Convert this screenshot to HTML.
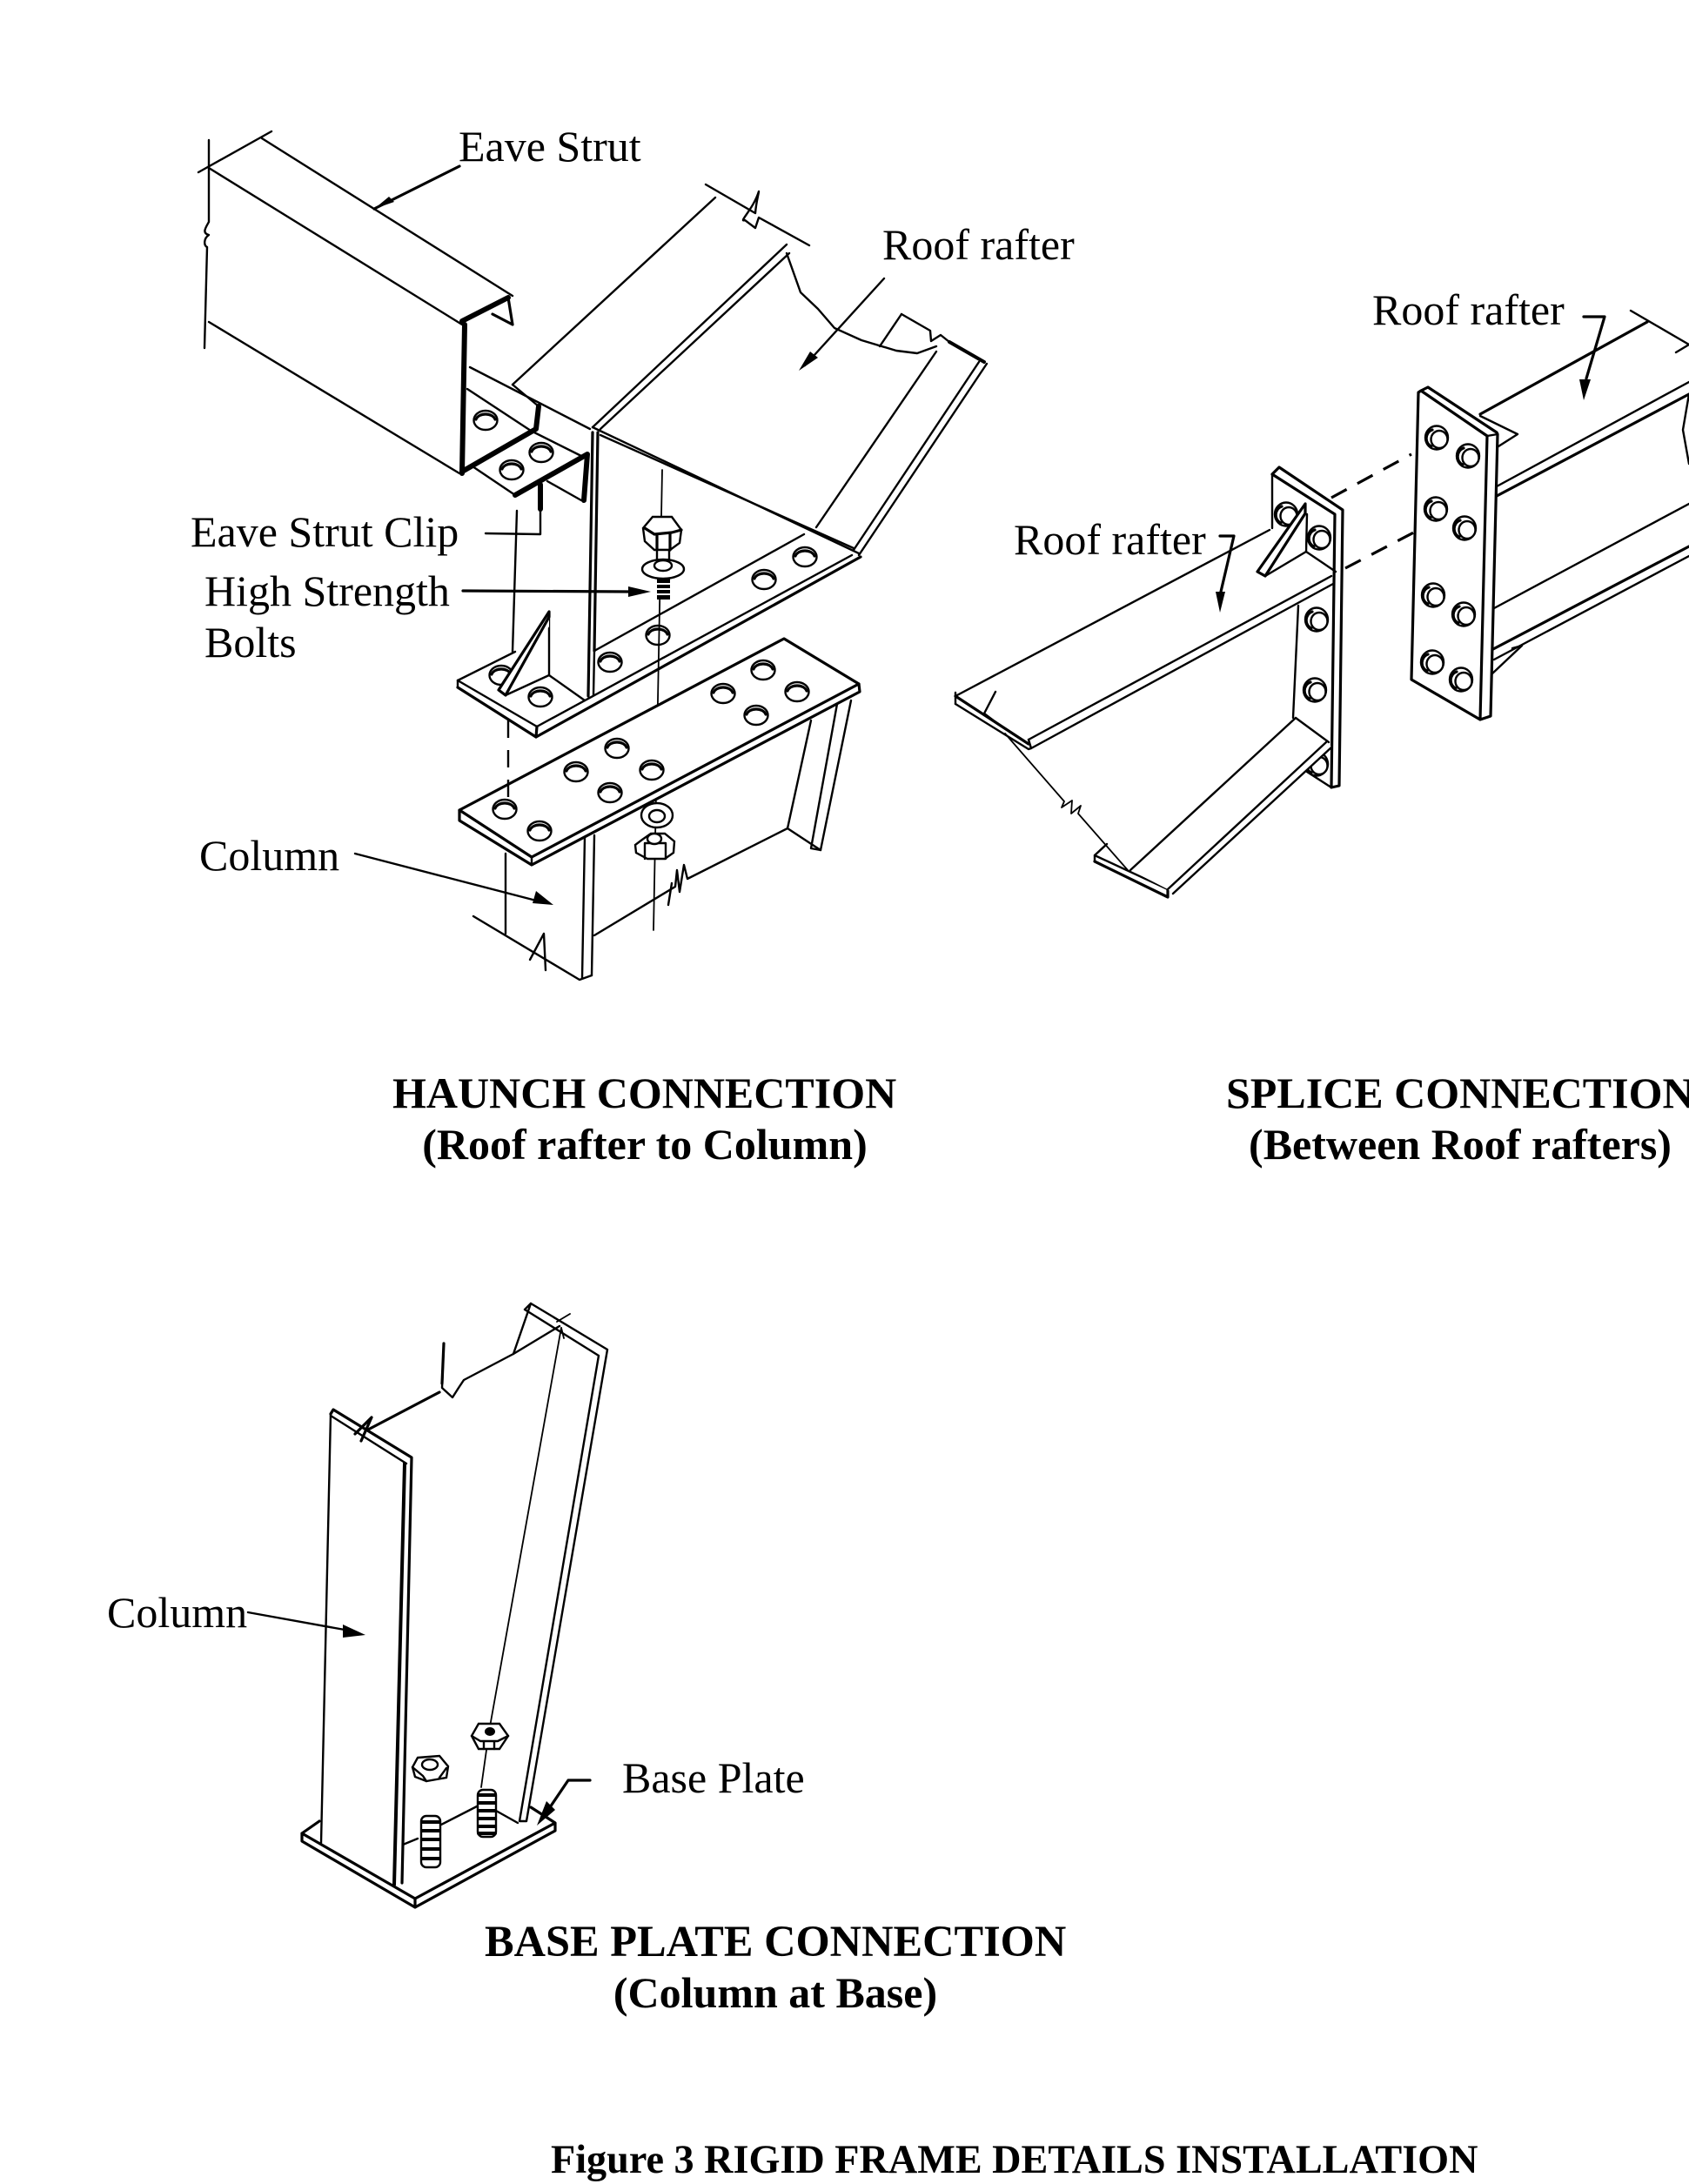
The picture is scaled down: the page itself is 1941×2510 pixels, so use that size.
<!DOCTYPE html>
<html><head><meta charset="utf-8"><style>
html,body{margin:0;padding:0;background:#fff;width:1941px;height:2510px;overflow:hidden}
svg{display:block}
text{font-family:"Liberation Serif",serif;fill:#000;font-size:50px}
.b{font-weight:bold}
.m{text-anchor:middle}
path,line,polyline{fill:none;stroke:#000;stroke-width:2.4;stroke-linejoin:round;stroke-linecap:round}
.t{stroke-width:6}
.f{stroke-width:3.2}
.k{stroke-width:1.8}
.d{stroke-dasharray:20 14;stroke-linecap:butt}
polygon{fill:#000;stroke:none}
.w{fill:#fff;stroke:#000;stroke-width:2.4}
</style></head><body>
<svg width="1941" height="2510" viewBox="0 0 1941 2510" xmlns="http://www.w3.org/2000/svg">
<defs>
<g id="h"><ellipse class="w" rx="13.5" ry="11"/><path class="f" d="M-11,-1 C-8,-9 8,-9 11,-1"/></g>
<g id="r"><ellipse class="w" rx="13" ry="13.5"/><path class="f" d="M-5,-9 C-14,-6 -14,7 -6,10" /><ellipse class="w" cx="3" cy="2" rx="9.5" ry="10"/></g>
</defs>

<!-- TEXT -->
<text x="527" y="185">Eave Strut</text>
<text x="1014" y="298">Roof rafter</text>
<text x="219" y="628">Eave Strut Clip</text>
<text x="235" y="696">High Strength</text>
<text x="235" y="755">Bolts</text>
<text x="229" y="1000">Column</text>
<text x="1577" y="373">Roof rafter</text>
<text x="1165" y="637">Roof rafter</text>
<text x="123" y="1870">Column</text>
<text x="715" y="2060">Base Plate</text>
<text class="b" x="451" y="1273">HAUNCH CONNECTION</text>
<text class="b m" x="741" y="1332">(Roof rafter to Column)</text>
<text class="b" x="1409" y="1273">SPLICE CONNECTION</text>
<text class="b m" x="1678" y="1332">(Between Roof rafters)</text>
<text class="b" x="557" y="2248" style="font-size:50.4px">BASE PLATE CONNECTION</text>
<text class="b m" x="891" y="2307">(Column at Base)</text>
<text class="b" x="633" y="2497" style="font-size:46.2px">Figure 3 RIGID FRAME DETAILS INSTALLATION</text>

<!-- HAUNCH: eave strut -->
<path d="M228,198 L312,151"/>
<path d="M301,159 L589,340"/>
<path d="M240,193 L531,373"/>
<path d="M240,161 L240,255 C236,262 232,268 240,270 C234,274 234,282 238,284 L235,400"/>
<path d="M240,370 L528,544"/>
<path class="t" d="M534,373 L531,544"/>
<path class="t" d="M531,369 L584,342"/>
<path class="f" d="M584,342 L589,373 L566,361"/>
<path class="t" d="M531,542 L616,493 L619,467"/>
<path d="M540,422 L678,493"/>
<path d="M537,447 L610,495"/>
<path d="M589,442 L619,467"/>
<path d="M543,536 L592,569"/>
<path class="t" d="M592,569 L675,522 L671,575"/>
<path d="M629,553 L668,575"/>
<path d="M610,495 L670,525"/>
<path class="t" d="M621,557 L621,585"/>
<path d="M621,585 L621,614 L558,613"/>
<use href="#h" x="558" y="483"/>
<use href="#h" x="622" y="520"/>
<use href="#h" x="588" y="540"/>
<path class="f" d="M528,191 L430,240"/>
<polygon points="430,240 447,226 453,232"/>

<!-- roof rafter -->
<path d="M822,227 L589,442"/>
<path d="M811,212 L868,245 C869,232 872,222 872,220 C866,240 848,256 856,253 L868,262 L872,250 L930,282"/>
<path d="M904,281 L681,491"/>
<path d="M907,291 L690,493"/>
<path d="M904,291 L920,336 L940,355 L959,377 L990,391 L1030,403 L1054,406 L1076,398"/>
<path d="M1016,320 L925,420"/>
<polygon points="918,426 931,404 940,411"/>
<path d="M1036,361 L1011,398"/>
<path d="M1036,361 L1069,380 L1070,392 L1081,385 L1091,393"/>
<path class="t" d="M1091,393 L1131,416" style="stroke-width:4"/>
<path d="M1134,418 L987,638"/>
<path d="M1125,416 L981,632"/>
<path d="M1076,404 L938,606"/>
<path d="M681,491 L987,636"/>
<path d="M690,500 L981,630"/>
<path class="f" d="M681,497 L676,800"/>
<path class="f" d="M687,497 L683,748"/>
<path d="M683,748 L924,614"/>
<path d="M683,748 L682,799"/>
<path d="M979,638 L617,835"/>
<path class="f" d="M989,640 L616,847"/>
<path d="M526,782 L617,835"/>
<path class="f" d="M526,790 L616,847 L617,835"/>
<path d="M526,782 L592,749"/>
<path d="M526,782 L526,790"/>
<path d="M594,587 L589,749"/>
<path d="M631,705 L631,776 L672,805"/>
<use href="#h" x="576" y="776"/>
<use href="#h" x="621" y="801"/>
<use href="#h" x="701" y="761"/>
<use href="#h" x="756" y="730"/>
<use href="#h" x="878" y="666"/>
<use href="#h" x="925" y="640"/>
<polygon style="fill:#fff" points="631,703 573,793 581,799 631,720"/>
<path class="f" d="M631,703 L573,793 L581,799 L631,709 Z"/>
<path d="M581,799 L631,776"/>
<path class="k" d="M761,540 L751,1069"/>
<!-- lower plate -->
<path class="f" d="M901,734 L987,786 L988,795 L611,994 L528,943 L528,931 Z" style="fill:#fff"/>
<path class="f" d="M528,931 L611,985 L987,786"/>
<path d="M611,985 L611,994"/>
<use href="#h" x="877" y="770"/>
<use href="#h" x="831" y="797"/>
<use href="#h" x="916" y="795"/>
<use href="#h" x="869" y="822"/>
<use href="#h" x="709" y="860"/>
<use href="#h" x="662" y="887"/>
<use href="#h" x="749" y="885"/>
<use href="#h" x="701" y="911"/>
<use href="#h" x="580" y="930"/>
<use href="#h" x="620" y="955"/>
<path class="d" d="M584,828 L584,920"/>
<path d="M581,981 L581,1073"/>
<path d="M672,962 L669,1124"/>
<path d="M683,960 L680,1121"/>
<path d="M544,1053 L666,1126 L680,1121"/>
<path d="M625,1073 L609,1103 M625,1073 L627,1115"/>
<path d="M683,1075 L776,1019 L778,1000 L781,1025 L786,994 L790,1010 L905,952"/>
<path d="M772,1015 L768,1040"/>
<path d="M905,952 L943,977 L978,805"/>
<path d="M962,809 L932,975 L943,977"/>
<path d="M932,828 L905,952"/>
<path d="M408,981 L620,1036"/>
<polygon points="636,1040 612,1038 616,1024"/>
<!-- bolt -->
<polygon class="w" points="750,594 772,594 783,609 781,624 770,632 752,632 741,622 739,607"/>
<path class="f" d="M741,607 L752,614 L772,612 L783,609 M755,614 L755,632 M770,614 L770,632"/>
<rect class="w" x="755" y="632" width="14" height="20"/>
<ellipse class="w" cx="762" cy="654" rx="24" ry="11"/>
<ellipse class="w" cx="762" cy="650" rx="10" ry="6"/>
<rect x="755" y="665" width="15" height="24" style="fill:#000"/>
<path d="M755,671 H770 M755,677 H770 M755,683 H770" style="stroke:#fff;stroke-width:2"/>
<path class="f" d="M532,679 L725,680"/>
<polygon points="748,680 722,674 722,686"/>
<!-- washer + nut -->
<ellipse class="w" cx="755" cy="937" rx="18" ry="14"/>
<ellipse class="w" cx="755" cy="938" rx="9" ry="7"/>
<polygon class="w" points="738,965 748,958 764,958 775,967 774,980 764,987 744,987 731,980 730,971"/>
<path d="M741,969 L765,969 L765,987 M741,969 L741,987"/>
<ellipse class="w" cx="752" cy="964" rx="8" ry="6"/>

<!-- SPLICE left -->
<path d="M1098,800 L1459,609"/>
<path d="M1182,850 L1530,662"/>
<path d="M1185,860 L1532,671"/>
<path class="f" d="M1098,800 L1182,855"/>
<path d="M1098,809 L1182,861 L1185,860 L1182,850"/>
<path d="M1098,796 L1098,809"/>
<path d="M1144,795 L1131,820 L1147,832"/>
<path class="k" d="M1155,843 L1223,921 L1220,928 L1232,920 L1231,935 L1242,926 L1239,935 L1296,1000"/>
<path d="M1258,983 L1342,1022"/>
<path class="f" d="M1258,990 L1342,1031 L1342,1022"/>
<path d="M1272,970 L1258,983 L1258,990"/>
<path class="f" d="M1462,545 L1470,537 L1543,586 L1539,903 L1530,905 L1534,591 L1462,545"/>
<path d="M1462,545 L1462,607"/>
<path d="M1502,591 L1501,634 L1535,657"/>
<path d="M1492,696 L1486,825"/>
<path d="M1502,887 L1530,905 M1502,887 L1520,865"/>
<use href="#r" x="1478" y="591"/>
<use href="#r" x="1516" y="618"/>
<use href="#r" x="1513" y="712"/>
<use href="#r" x="1511" y="793"/>
<use href="#r" x="1513" y="878"/>
<polygon style="fill:#fff" points="1530,859 1348,1027 1342,1022 1299,1000 1489,825 1527,853"/>
<path d="M1299,1000 L1489,825"/>
<path d="M1342,1022 L1524,853"/>
<path d="M1348,1027 L1530,859"/>
<path d="M1489,825 L1527,853"/>
<polygon style="fill:#fff" points="1500,579 1445,657 1454,662 1500,632"/>
<path class="f" d="M1500,579 L1445,657 L1454,662 L1500,590 Z"/>
<path d="M1454,662 L1501,634"/>
<path class="f d" d="M1530,572 L1622,522"/>
<path class="f d" d="M1546,653 L1638,605"/>
<path class="f" d="M1402,616 L1418,616 L1403,680"/>
<polygon points="1402,704 1397,680 1408,680"/>
<!-- SPLICE right -->
<path class="f" d="M1701,476 L1893,370"/>
<path d="M1701,478 L1744,499 L1722,513"/>
<path d="M1720,559 L1941,439"/>
<path class="f" d="M1720,570 L1941,453"/>
<path d="M1717,699 L1941,579"/>
<path class="f" d="M1714,747 L1941,628"/>
<path d="M1717,758 L1941,639"/>
<path d="M1714,775 L1749,742 L1738,745"/>
<path d="M1714,747 L1714,775"/>
<path d="M1874,357 L1941,396 M1926,405 L1941,396"/>
<path d="M1941,453 L1934,494 L1941,533"/>
<path class="f" d="M1820,364 L1844,364 L1823,435"/>
<polygon points="1820,460 1815,436 1828,436"/>
<path class="f" d="M1633,449 L1641,445 L1720,497 L1721,499 L1713,823 L1701,827 L1622,781 L1630,451 L1633,449 L1709,501 L1701,827" style="fill:#fff"/>
<path d="M1709,501 L1721,499"/>
<use href="#r" x="1651" y="503"/>
<use href="#r" x="1687" y="524"/>
<use href="#r" x="1650" y="585"/>
<use href="#r" x="1683" y="607"/>
<use href="#r" x="1647" y="684"/>
<use href="#r" x="1682" y="706"/>
<use href="#r" x="1646" y="761"/>
<use href="#r" x="1679" y="781"/>

<!-- BASE -->
<path class="f" d="M347,2107 L367,2093 M347,2107 L347,2116 L477,2192 L638,2104 L638,2095 L610,2077 M347,2107 L477,2182 L638,2095 M477,2182 L477,2192"/>
<path d="M380,1625 L369,2118"/>
<path class="f" d="M380,1625 L383,1620 L473,1675 L462,2164"/>
<path d="M380,1627 L467,1682"/>
<path class="t" d="M465,1682 L453,2166" style="stroke-width:4"/>
<path class="f" d="M423,1643 L505,1600"/>
<path d="M510,1544 L508,1595 L520,1606 L527,1595 L533,1586 L590,1556 L643,1524"/>
<path class="f" d="M510,1544 L508,1590"/>
<path class="f" d="M408,1648 L427,1629 M415,1656 L427,1629"/>
<path d="M610,1498 L590,1556"/>
<path d="M603,1505 L610,1498 L698,1551 L605,2093 L597,2093 L688,1558 L603,1505"/>
<path class="k" d="M640,1519 L655,1510 M645,1526 L648,1538"/>
<path class="k" d="M645,1526 L562,1990 L553,2054"/>
<path d="M463,2120 L480,2113"/>
<path d="M505,2098 L550,2075"/>
<path d="M570,2081 L595,2095"/>
<g>
<polygon class="w" points="550,1981 574,1981 584,1995 574,2010 550,2010 542,1995"/>
<path d="M542,1995 L552,2001 L572,2001 L584,1995 M556,2001 L556,2010 M568,2001 L568,2010"/>
<ellipse class="f" cx="563" cy="1990" rx="6" ry="5"/>
<polygon class="w" points="480,2020 505,2018 515,2030 513,2043 490,2047 477,2042 474,2031"/>
<path d="M474,2031 L486,2041 L490,2047 M513,2032 L505,2043"/>
<ellipse class="w" cx="494" cy="2028" rx="9" ry="6"/>
</g>
<g>
<rect x="549" y="2057" width="21" height="54" rx="6" style="fill:#fff;stroke:#000;stroke-width:2.4"/>
<path class="t" style="stroke-width:4" d="M550,2063 H569 M550,2072 H569 M550,2081 H569 M550,2090 H569 M550,2099 H569 M550,2107 H569"/>
<rect x="484" y="2087" width="22" height="59" rx="6" style="fill:#fff;stroke:#000;stroke-width:2.4"/>
<path class="t" style="stroke-width:4" d="M485,2094 H505 M485,2104 H505 M485,2114 H505 M485,2125 H505 M485,2136 H505"/>
</g>
<path class="f" d="M678,2046 L653,2046 L630,2080"/>
<polygon points="617,2098 628,2070 638,2080"/>
<path d="M285,1853 L396,1873"/>
<polygon points="420,1879 394,1867 394,1882"/>
</svg>
</body></html>
